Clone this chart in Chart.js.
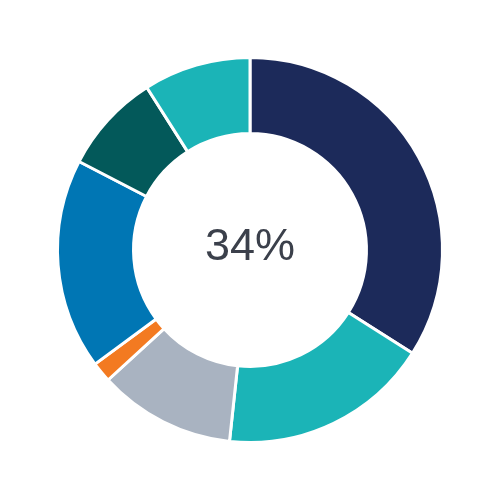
<!DOCTYPE html>
<html><head><meta charset="utf-8">
<script src="https://cdn.jsdelivr.net/npm/chart.js@4"></script>
<style>html,body{margin:0;padding:0;background:#fff;}#wrap{width:500px;height:500px;}</style>
</head><body><div id="wrap"><canvas id="c" width="500" height="500"></canvas></div>
<script>
const categories = ['A','B','C','D','E','F','G'];
const values = [34, 17.7, 11.5, 1.7, 17.7, 8.4, 9.0];
const colors = ['#1c2a5a','#1bb4b7','#a9b3c1','#f37a21','#0076b4','#03595a','#1bb4b7'];
const centerLabel = '34%';

const centerText = {
  id:'centerText',
  afterDraw(chart){
    const {ctx, chartArea} = chart;
    const cx = (chartArea.left+chartArea.right)/2, cy=(chartArea.top+chartArea.bottom)/2;
    ctx.save();
    ctx.font = '45px "Liberation Sans", Arial, sans-serif';
    ctx.fillStyle = '#3b404b';
    ctx.textAlign='center'; ctx.textBaseline='middle';
    ctx.fillText(centerLabel, cx, cy-2);
    ctx.restore();
  }
};
new Chart(document.getElementById('c'), {
  type:'doughnut',
  data:{labels:categories, datasets:[{data:values, backgroundColor:colors, borderColor:'#ffffff', borderWidth:3}]},
  options:{responsive:false, animation:false, cutout:'60.5%',
    layout:{padding:56},
    plugins:{legend:{display:false}, tooltip:{enabled:false}}},
  plugins:[centerText]
});
</script></body></html>
